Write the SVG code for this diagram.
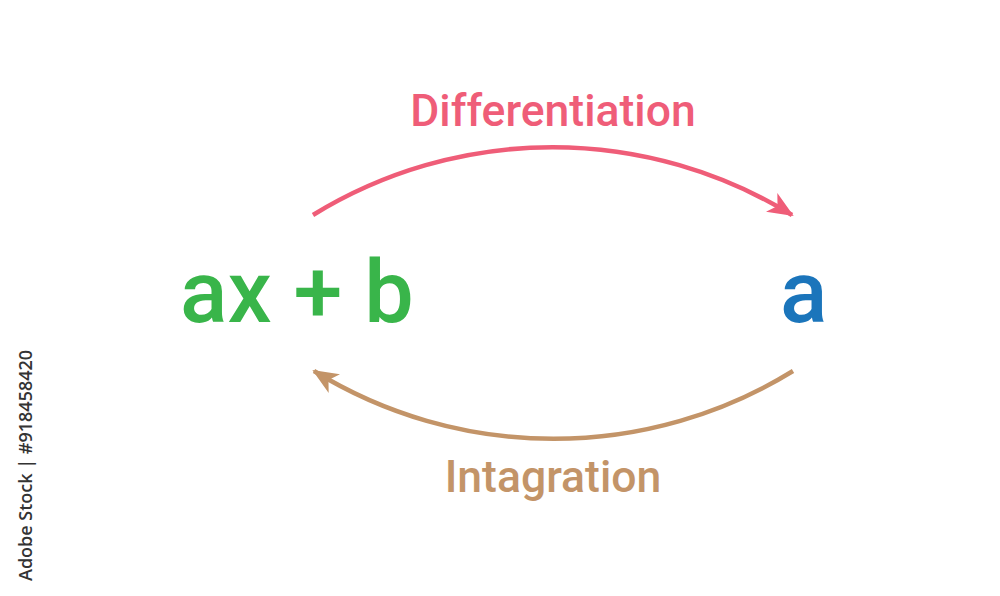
<svg xmlns="http://www.w3.org/2000/svg" width="1000" height="596" viewBox="0 0 1000 596">
<style>
.lbl{font-family:Roboto,"DejaVu Sans",sans-serif;font-weight:500}
.big{font-family:Roboto,"DejaVu Sans",sans-serif;font-weight:500;font-size:88px}
.wm{font-family:"Open Sans","Liberation Sans",sans-serif;font-size:18px;font-weight:600;fill:#333}
</style>
<defs>
<marker id="ahPink" markerUnits="userSpaceOnUse" viewBox="0 0 26 22" refX="24" refY="11" markerWidth="26" markerHeight="22" orient="auto">
<path d="M0,0 L26,11 L0,22 L7,11 Z" fill="#ef5d78"/>
</marker>
<marker id="ahTan" markerUnits="userSpaceOnUse" viewBox="0 0 26 22" refX="24" refY="11" markerWidth="26" markerHeight="22" orient="auto">
<path d="M0,0 L26,11 L0,22 L7,11 Z" fill="#c39468"/>
</marker>
</defs>
<rect width="1000" height="596" fill="#ffffff"/>
<g id="connectors" fill="none" stroke-width="4.5">
<path d="M313,215 A457,457 0 0 1 792,215" stroke="#ef5d78" marker-end="url(#ahPink)"/>
<path d="M793,371 A457,457 0 0 1 314,371" stroke="#c39468" marker-end="url(#ahTan)"/>
</g>
<g id="node-left"><text class="big" x="180" y="322" fill="#39b54a">ax + b</text></g>
<g id="node-right"><text class="big" x="780" y="322" fill="#1b75bb">a</text></g>
<g id="label-diff"><text class="lbl" x="553" y="126" font-size="44.5" text-anchor="middle" fill="#ef5d78">Differentiation</text></g>
<g id="label-int"><text class="lbl" x="553" y="492" font-size="44.5" text-anchor="middle" fill="#c39468">Intagration</text></g>
<text class="wm" transform="translate(32,581) rotate(-90)">Adobe Stock | #918458420</text>
</svg>
